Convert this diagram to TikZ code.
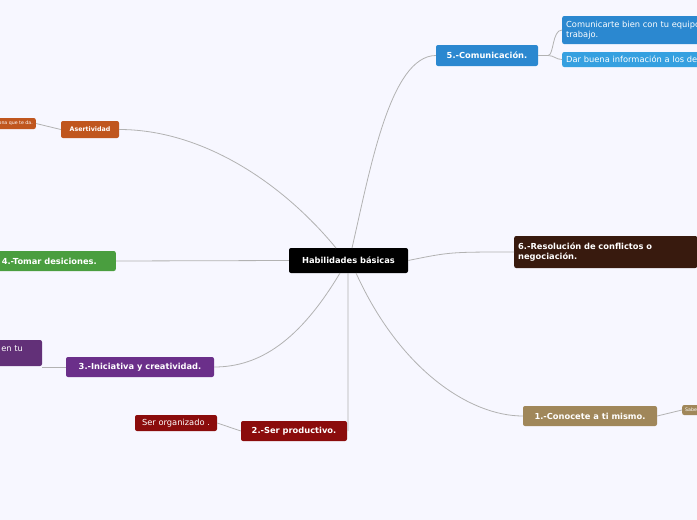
\documentclass[tikz,border=0pt]{standalone}
\usepackage{fontspec}
\setmainfont{DejaVu Sans}
\begin{document}
\begin{tikzpicture}[x=1pt,y=-1pt,
  box/.style={rounded corners=2pt,text=white,inner sep=0pt,font=\fontsize{8.3}{10}\selectfont},
  big/.style={box,font=\bfseries\fontsize{8.3}{10}\selectfont},
  con/.style={draw=gray!60,line width=0.8pt}]
\useasboundingbox (0,0) rectangle (697,520);
\fill[blue!3] (0,0) rectangle (697,520);
\clip (0,0) rectangle (697,520);
\node[big,fill=black,minimum width=119,minimum height=25] (c) at (348.5,260.5) {Habilidades básicas};
\node[big,fill={rgb,255:red,43;green,136;blue,208},minimum width=102,minimum height=21] (n5) at (487,55.5) {5.-Comunicación.};
\node[box,fill={rgb,255:red,43;green,136;blue,208},minimum width=180,minimum height=28,anchor=west,align=left,text width=172,inner xsep=4pt] (n5a) at (562,30) {Comunicarte bien con tu equipo de\\trabajo.};
\node[box,fill={rgb,255:red,53;green,160;blue,224},minimum width=180,minimum height=15,anchor=west,align=left,text width=172,inner xsep=4pt] (n5b) at (562,59.5) {Dar buena información a los demás.};
\node[big,fill={rgb,255:red,192;green,86;blue,30},minimum width=58,minimum height=17,font=\bfseries\fontsize{6.3}{7}\selectfont] (as) at (90,129.5) {Asertividad};
\node[box,fill={rgb,255:red,192;green,86;blue,30},minimum height=11,anchor=east,font=\fontsize{4.7}{5}\selectfont,inner xsep=3pt] (asa) at (36,123.5) {Confía en la persona que te da.};
\node[big,fill={rgb,255:red,56;green,26;blue,14},minimum width=183,minimum height=32,anchor=west,align=left,text width=175,inner xsep=4pt] (n6) at (514,252) {6.-Resolución de conflictos o\\negociación.};
\node[big,fill={rgb,255:red,74;green,158;blue,63},minimum height=20,minimum width=124,anchor=east,align=left,text width=112] (n4) at (116,261) {\hspace*{4pt}4.-Tomar desiciones.};
\node[big,fill={rgb,255:red,107;green,47;blue,138},minimum width=148,minimum height=20] (n3) at (140,367) {3.-Iniciativa y creatividad.};
\fill[rounded corners=2pt,fill={rgb,255:red,98;green,48;blue,120}] (-20,340) rectangle (42,366);
\node[box,anchor=east] (n3a) at (23,349) {Sé proactivo en tu};
\coordinate (n3e) at (42,367);
\node[big,fill={rgb,255:red,139;green,12;blue,12},minimum width=106,minimum height=20] (n2) at (294,431) {2.-Ser productivo.};
\node[box,fill={rgb,255:red,139;green,12;blue,12},minimum width=82,minimum height=16] (n2a) at (176,423) {Ser organizado .};
\node[big,fill={rgb,255:red,160;green,135;blue,90},minimum width=134,minimum height=20] (n1) at (590,416) {1.-Conocete a ti mismo.};
\node[box,fill={rgb,255:red,160;green,135;blue,90},minimum height=10,anchor=west,font=\fontsize{4.7}{5}\selectfont,inner xsep=3pt] (n1a) at (682,410) {Saber tus fortalezas.};
\draw[con] (352,248) .. controls (370,170) and (390,56) .. (n5.west);
\draw[con] (n5.east) -- (548,55.5) .. controls (554,55.5) and (552,30) .. (n5a.west);
\draw[con] (548,55.5) .. controls (554,55.5) and (556,59.5) .. (n5b.west);
\draw[con] (336,248) .. controls (280,180) and (200,129.5) .. (as.east);
\draw[con] (as.west) -- (asa.east);
\draw[con] (c.east) .. controls (450,252) .. (n6.west);
\draw[con] (c.west) -- (n4.east);
\draw[con] (340,273) .. controls (300,340) and (260,367) .. (n3.east);
\draw[con] (n3.west) -- (n3e);
\draw[con] (348,273) -- (348,431) (n2.west) -- (n2a.east);
\draw[con] (356,273) .. controls (400,370) and (470,416) .. (n1.west);
\draw[con] (n1.east) -- (n1a.west);
\end{tikzpicture}
\end{document}
